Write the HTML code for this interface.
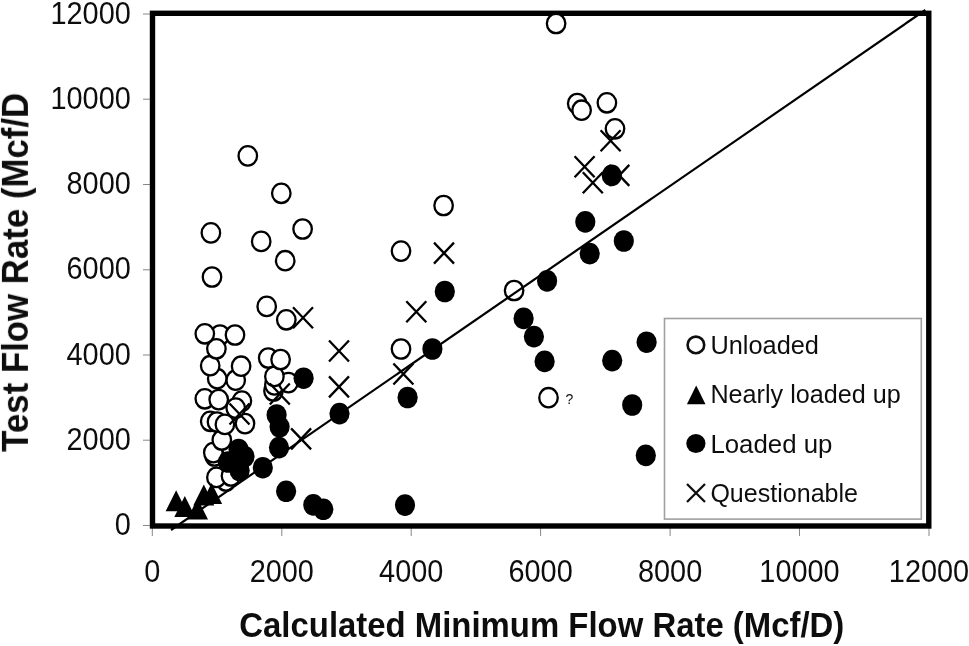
<!DOCTYPE html>
<html lang="en"><head><meta charset="utf-8"><title>Flow rate chart</title>
<style>html,body{margin:0;padding:0;background:#fff}body{width:969px;height:646px;overflow:hidden}svg{display:block}text{font-family:'Liberation Sans', sans-serif;fill:#111}</style></head><body>
<svg width="969" height="646" viewBox="0 0 969 646">
<defs><filter id="soft" x="0" y="0" width="969" height="646" filterUnits="userSpaceOnUse"><feGaussianBlur stdDeviation="0.45"/></filter></defs>
<rect width="969" height="646" fill="#fff"/>
<g filter="url(#soft)">
<g stroke="#888" stroke-width="1">
<line x1="143" x2="151" y1="14.0" y2="14.0"/>
<line x1="143" x2="151" y1="99.2" y2="99.2"/>
<line x1="143" x2="151" y1="184.5" y2="184.5"/>
<line x1="143" x2="151" y1="269.8" y2="269.8"/>
<line x1="143" x2="151" y1="355.0" y2="355.0"/>
<line x1="143" x2="151" y1="440.2" y2="440.2"/>
<line x1="143" x2="151" y1="525.5" y2="525.5"/>
<line x1="152.3" x2="152.3" y1="527" y2="536"/>
<line x1="281.8" x2="281.8" y1="527" y2="536"/>
<line x1="411.2" x2="411.2" y1="527" y2="536"/>
<line x1="540.6" x2="540.6" y1="527" y2="536"/>
<line x1="670.1" x2="670.1" y1="527" y2="536"/>
<line x1="799.5" x2="799.5" y1="527" y2="536"/>
<line x1="929.0" x2="929.0" y1="527" y2="536"/>
</g>
<rect x="664.5" y="318.5" width="256.8" height="200.6" fill="#fff" stroke="#a0a0a0" stroke-width="1.6"/>
<rect x="152.5" y="13.3" width="776.3" height="512.7" fill="none" stroke="#000" stroke-width="5.4"/>
<g fill="#fff" stroke="#000" stroke-width="2.3">
<ellipse cx="226" cy="481" rx="9.25" ry="9.7"/>
<ellipse cx="216.4" cy="477.4" rx="9.25" ry="9.7"/>
<ellipse cx="231" cy="476" rx="9.25" ry="9.7"/>
<ellipse cx="214.5" cy="456" rx="9.25" ry="9.7"/>
<ellipse cx="213.3" cy="452.6" rx="9.25" ry="9.7"/>
<ellipse cx="221.8" cy="440" rx="9.25" ry="9.7"/>
<ellipse cx="210.2" cy="421.3" rx="9.25" ry="9.7"/>
<ellipse cx="217" cy="422" rx="9.25" ry="9.7"/>
<ellipse cx="245" cy="423.6" rx="9.25" ry="9.7"/>
<ellipse cx="224.9" cy="424.4" rx="9.25" ry="9.7"/>
<ellipse cx="241.9" cy="401.1" rx="9.25" ry="9.7"/>
<ellipse cx="235.7" cy="408.1" rx="9.25" ry="9.7"/>
<ellipse cx="204.8" cy="398.8" rx="9.25" ry="9.7"/>
<ellipse cx="218.7" cy="399.6" rx="9.25" ry="9.7"/>
<ellipse cx="548.5" cy="397.7" rx="9.25" ry="9.7"/>
<ellipse cx="273.5" cy="391" rx="9.25" ry="9.7"/>
<ellipse cx="274.4" cy="384.9" rx="9.25" ry="9.7"/>
<ellipse cx="288.4" cy="382.6" rx="9.25" ry="9.7"/>
<ellipse cx="235.7" cy="380.2" rx="9.25" ry="9.7"/>
<ellipse cx="217.2" cy="378.7" rx="9.25" ry="9.7"/>
<ellipse cx="274.4" cy="376.4" rx="9.25" ry="9.7"/>
<ellipse cx="241.1" cy="366.2" rx="9.25" ry="9.7"/>
<ellipse cx="210.2" cy="365.7" rx="9.25" ry="9.7"/>
<ellipse cx="268.2" cy="358" rx="9.25" ry="9.7"/>
<ellipse cx="280.6" cy="359.5" rx="9.25" ry="9.7"/>
<ellipse cx="220" cy="335" rx="9.25" ry="9.7"/>
<ellipse cx="401" cy="349" rx="9.25" ry="9.7"/>
<ellipse cx="216.4" cy="348.8" rx="9.25" ry="9.7"/>
<ellipse cx="235" cy="335" rx="9.25" ry="9.7"/>
<ellipse cx="204.8" cy="333.8" rx="9.25" ry="9.7"/>
<ellipse cx="286.3" cy="319.8" rx="9.25" ry="9.7"/>
<ellipse cx="266.7" cy="306.4" rx="9.25" ry="9.7"/>
<ellipse cx="514.1" cy="290.5" rx="9.25" ry="9.7"/>
<ellipse cx="212" cy="277" rx="9.25" ry="9.7"/>
<ellipse cx="285.2" cy="260.7" rx="9.25" ry="9.7"/>
<ellipse cx="401" cy="251.1" rx="9.25" ry="9.7"/>
<ellipse cx="261.2" cy="241.4" rx="9.25" ry="9.7"/>
<ellipse cx="210.9" cy="232.9" rx="9.25" ry="9.7"/>
<ellipse cx="302.6" cy="229" rx="9.25" ry="9.7"/>
<ellipse cx="443.6" cy="205.5" rx="9.25" ry="9.7"/>
<ellipse cx="281.3" cy="193.3" rx="9.25" ry="9.7"/>
<ellipse cx="247.8" cy="155.9" rx="9.25" ry="9.7"/>
<ellipse cx="615" cy="128.8" rx="9.25" ry="9.7"/>
<ellipse cx="577.2" cy="103.5" rx="9.25" ry="9.7"/>
<ellipse cx="581.6" cy="110.2" rx="9.25" ry="9.7"/>
<ellipse cx="606.9" cy="102.8" rx="9.25" ry="9.7"/>
<ellipse cx="556.1" cy="23.5" rx="9.25" ry="9.7"/>
</g>
<line x1="171" y1="530" x2="925.3" y2="10" stroke="#000" stroke-width="2.2"/>
<g fill="#000">
<path d="M176.1 490.3L186.6 511.3H165.6Z"/>
<path d="M184.8 496.1L195.3 517.1H174.3Z"/>
<path d="M197.5 498.5L208.0 519.5H187.0Z"/>
<path d="M203.8 484.5L214.3 505.5H193.3Z"/>
<path d="M211.6 482.9L222.1 503.9H201.1Z"/>
<ellipse cx="444.8" cy="291.5" rx="10.1" ry="10.8"/>
<ellipse cx="523.6" cy="318.4" rx="10.1" ry="10.8"/>
<ellipse cx="432.4" cy="349" rx="10.1" ry="10.8"/>
<ellipse cx="407.6" cy="397.5" rx="10.1" ry="10.8"/>
<ellipse cx="303.6" cy="378.2" rx="10.1" ry="10.8"/>
<ellipse cx="339.5" cy="413.6" rx="10.1" ry="10.8"/>
<ellipse cx="533.9" cy="336.6" rx="10.1" ry="10.8"/>
<ellipse cx="544.6" cy="361.4" rx="10.1" ry="10.8"/>
<ellipse cx="612.2" cy="360.6" rx="10.1" ry="10.8"/>
<ellipse cx="646.6" cy="342.2" rx="10.1" ry="10.8"/>
<ellipse cx="632.2" cy="405" rx="10.1" ry="10.8"/>
<ellipse cx="645.8" cy="455.4" rx="10.1" ry="10.8"/>
<ellipse cx="547.1" cy="280.9" rx="10.1" ry="10.8"/>
<ellipse cx="589.7" cy="253.6" rx="10.1" ry="10.8"/>
<ellipse cx="623.8" cy="241" rx="10.1" ry="10.8"/>
<ellipse cx="611.8" cy="175.4" rx="10.1" ry="10.8"/>
<ellipse cx="585.3" cy="221.9" rx="10.1" ry="10.8"/>
<ellipse cx="286.1" cy="491.3" rx="10.1" ry="10.8"/>
<ellipse cx="313.3" cy="504.9" rx="10.1" ry="10.8"/>
<ellipse cx="323.3" cy="509.3" rx="10.1" ry="10.8"/>
<ellipse cx="405" cy="505.1" rx="10.1" ry="10.8"/>
<ellipse cx="276.6" cy="415" rx="10.1" ry="10.8"/>
<ellipse cx="279.6" cy="426.8" rx="10.1" ry="10.8"/>
<ellipse cx="279" cy="447.6" rx="10.1" ry="10.8"/>
<ellipse cx="238.6" cy="449.5" rx="10.1" ry="10.8"/>
<ellipse cx="228" cy="462" rx="10.1" ry="10.8"/>
<ellipse cx="239.6" cy="470.5" rx="10.1" ry="10.8"/>
<ellipse cx="244.5" cy="456.5" rx="10.1" ry="10.8"/>
<ellipse cx="236" cy="461" rx="10.1" ry="10.8"/>
<ellipse cx="262.8" cy="467.7" rx="10.1" ry="10.8"/>
</g>
<g stroke="#000" stroke-width="2.3">
<path d="M293 307.2L313 328.2M313 307.2L293 328.2"/>
<path d="M434 242.6L454 263.6M454 242.6L434 263.6"/>
<path d="M406.3 301.3L426.3 322.3M426.3 301.3L406.3 322.3"/>
<path d="M329 340.5L349 361.5M349 340.5L329 361.5"/>
<path d="M329 376.4L349 397.4M349 376.4L329 397.4"/>
<path d="M393.4 363.5L413.4 384.5M413.4 363.5L393.4 384.5"/>
<path d="M291.1 428.4L311.1 449.4M311.1 428.4L291.1 449.4"/>
<path d="M269.8 383.5L289.8 404.5M289.8 383.5L269.8 404.5"/>
<path d="M229.5 403.5L249.5 424.5M249.5 403.5L229.5 424.5"/>
<path d="M600.6 130.2L620.6 151.2M620.6 130.2L600.6 151.2"/>
<path d="M574.6 156.2L594.6 177.2M594.6 156.2L574.6 177.2"/>
<path d="M582.8 172.3L602.8 193.3M602.8 172.3L582.8 193.3"/>
<path d="M609.3 164.9L629.3 185.9M629.3 164.9L609.3 185.9"/>
</g>
<g font-size="28.9" text-anchor="end">
<text transform="translate(130.8 23.6) scale(1 1.09)">12000</text>
<text transform="translate(130.8 108.8) scale(1 1.09)">10000</text>
<text transform="translate(130.8 194.1) scale(1 1.09)">8000</text>
<text transform="translate(130.8 279.4) scale(1 1.09)">6000</text>
<text transform="translate(130.8 364.6) scale(1 1.09)">4000</text>
<text transform="translate(130.8 449.9) scale(1 1.09)">2000</text>
<text transform="translate(130.8 535.1) scale(1 1.09)">0</text>
</g>
<g font-size="28.9" text-anchor="middle">
<text transform="translate(152.3 582) scale(1 1.1)">0</text>
<text transform="translate(281.8 582) scale(1 1.1)">2000</text>
<text transform="translate(411.2 582) scale(1 1.1)">4000</text>
<text transform="translate(540.6 582) scale(1 1.1)">6000</text>
<text transform="translate(670.1 582) scale(1 1.1)">8000</text>
<text transform="translate(799.5 582) scale(1 1.1)">10000</text>
<text transform="translate(929.0 582) scale(1 1.1)">12000</text>
</g>
<text x="569.3" y="404.3" font-size="14" text-anchor="middle" fill="#333">?</text>
<text transform="translate(239.3 637) scale(1 1.06)" font-size="33" font-weight="bold" textLength="605" lengthAdjust="spacingAndGlyphs">Calculated Minimum Flow Rate (Mcf/D)</text>
<text transform="translate(27.8 451.8) rotate(-90) scale(1 1.09)" font-size="34" font-weight="bold" textLength="359" lengthAdjust="spacingAndGlyphs">Test Flow Rate (Mcf/D</text>
<circle cx="695.9" cy="344.9" r="8.3" fill="none" stroke="#111" stroke-width="2.6"/>
<path d="M696.2 385.5L705.5 404.3H686.9Z" fill="#000"/>
<circle cx="695.9" cy="443.5" r="9.6" fill="#000"/>
<path d="M687 484L705 502M705 484L687 502" stroke="#111" stroke-width="2.3"/>
<g font-size="25.3">
<text x="710.4" y="353.8" textLength="108.6" lengthAdjust="spacingAndGlyphs">Unloaded</text>
<text x="710.4" y="403.2" textLength="190.4" lengthAdjust="spacingAndGlyphs">Nearly loaded up</text>
<text x="710.4" y="452.5" textLength="122.1" lengthAdjust="spacingAndGlyphs">Loaded up</text>
<text x="710.4" y="501.8" textLength="147.6" lengthAdjust="spacingAndGlyphs">Questionable</text>
</g>
</g>
</svg></body></html>
